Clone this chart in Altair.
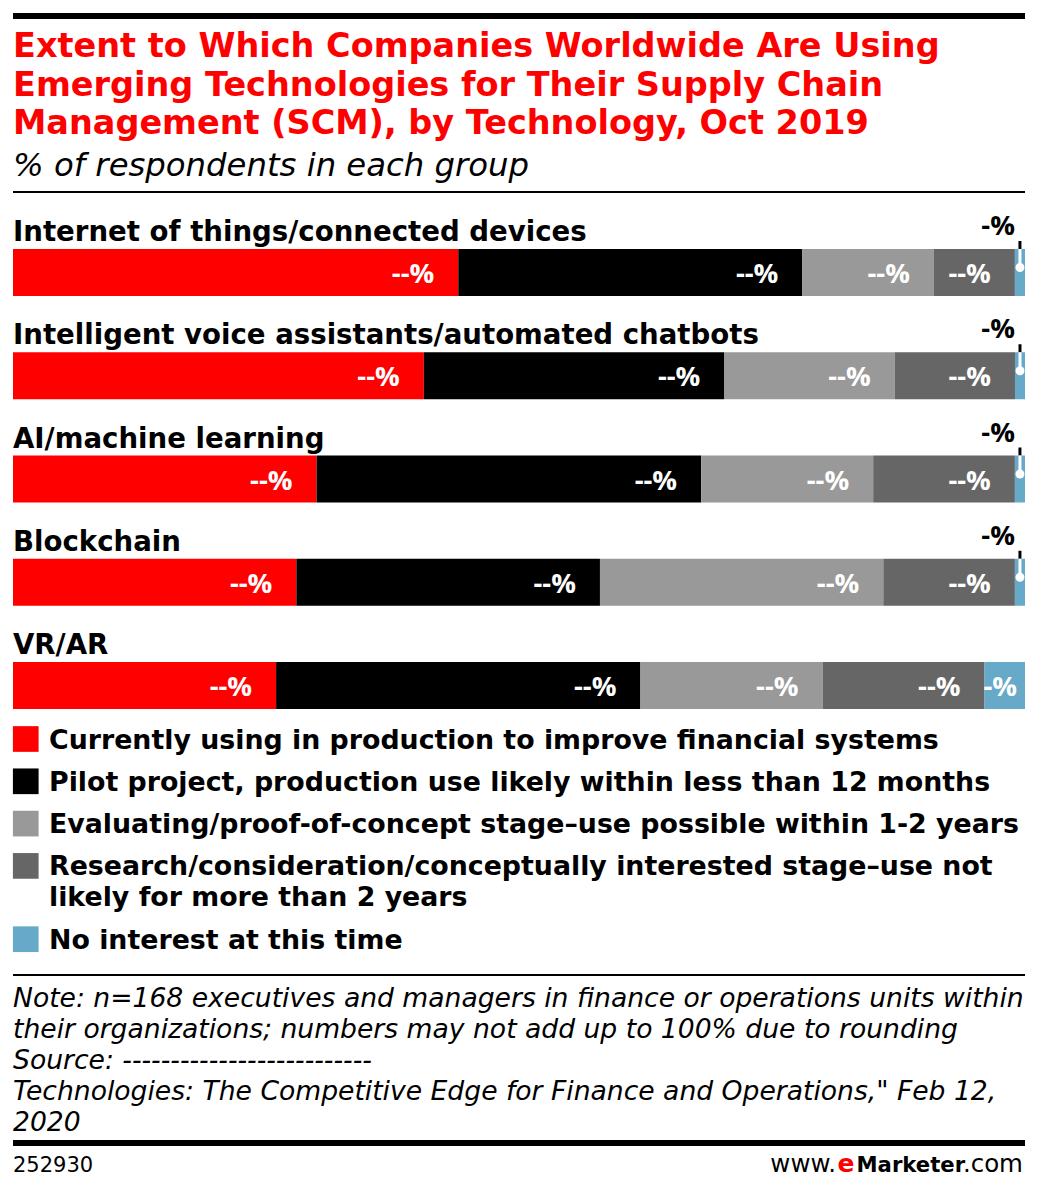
import altair as alt
import pandas as pd

# ---------------- data ----------------
categories = [
    "Internet of things/connected devices",
    "Intelligent voice assistants/automated chatbots",
    "AI/machine learning",
    "Blockchain",
    "VR/AR",
]
stages = [
    "Currently using in production to improve financial systems",
    "Pilot project, production use likely within less than 12 months",
    "Evaluating/proof-of-concept stage–use possible within 1-2 years",
    "Research/consideration/conceptually interested stage–use not likely for more than 2 years",
    "No interest at this time",
]
legend_labels = [
    "Currently using in production to improve financial systems",
    "Pilot project, production use likely within less than 12 months",
    "Evaluating/proof-of-concept stage–use possible within 1-2 years",
    "Research/consideration/conceptually interested stage–use not\nlikely for more than 2 years",
    "No interest at this time",
]
stage_colors = ["#ff0000", "#000000", "#999999", "#666666", "#67a9c9"]

currently_using = [44, 41, 30, 28, 26]
pilot_project = [34, 30, 38, 30, 36]
evaluating = [13, 17, 17, 28, 18]
research = [8, 12, 14, 13, 16]
no_interest = [1, 1, 1, 1, 4]
segment_labels = ["--%", "--%", "--%", "--%", "-%"]

title_text = ("Extent to Which Companies Worldwide Are Using\n"
              "Emerging Technologies for Their Supply Chain\n"
              "Management (SCM), by Technology, Oct 2019")
subtitle_text = "% of respondents in each group"
note_text = ("Note: n=168 executives and managers in finance or operations units within\n"
             "their organizations; numbers may not add up to 100% due to rounding\n"
             "Source: --------------------------\n"
             "Technologies: The Competitive Edge for Finance and Operations,\" Feb 12,\n"
             "2020")
chart_id = "252930"
brand_parts = ["www.", "e", "Marketer", ".com"]

# ---------------- tables ----------------
series = [currently_using, pilot_project, evaluating, research, no_interest]
rows = []
for ci, cat in enumerate(categories):
    for si, st in enumerate(stages):
        v = series[si][ci]
        rows.append(dict(category=cat, stage=st, order=si, value=v,
                         label=segment_labels[si], outside=bool(si == 4 and v < 3)))
df = pd.DataFrame(rows)

W = 1012
HEAVY = "DejaVu Sans"
LBL = "Open Sans"
ITAL = "DejaVu Sans"

# ---------------- header ----------------
hdr = alt.Chart(pd.DataFrame({"t": [title_text], "s": [subtitle_text]}))
top_rule = hdr.mark_rule(color="black", strokeWidth=6).encode(
    x=alt.value(0), x2=alt.value(W), y=alt.value(3))
title = hdr.mark_text(align="left", baseline="alphabetic", lineBreak="\n", lineHeight=38.5,
                      font=HEAVY, fontSize=33.5, fontWeight="bold", color="#ff0000").encode(
    x=alt.value(0), y=alt.value(44), text="t:N")
subtitle = hdr.mark_text(align="left", baseline="alphabetic", font=ITAL, fontSize=32.3,
                         fontStyle="italic", color="black").encode(
    x=alt.value(0), y=alt.value(163), text="s:N")
thin_rule = hdr.mark_rule(color="black", strokeWidth=2).encode(
    x=alt.value(0), x2=alt.value(W), y=alt.value(179))
header = alt.layer(top_rule, title, subtitle, thin_rule).properties(width=W, height=236)

# ---------------- bars ----------------
ysc = alt.Scale(domain=categories, paddingInner=0.5448, paddingOuter=0)
xsc = alt.Scale(domain=[0, 1], nice=False, zero=True)
Y = alt.Y("category:N", scale=ysc, axis=None)

base = alt.Chart(df).transform_stack(
    stack="value", groupby=["category"], as_=["v0", "v1"], offset="normalize",
    sort=[alt.SortField("order", order="ascending")]
).transform_calculate(mid="(datum.v0 + datum.v1) / 2")

bars = base.mark_bar().encode(
    x=alt.X("v0:Q", scale=xsc, axis=None), x2="v1:Q", y=Y,
    color=alt.Color("stage:N", scale=alt.Scale(domain=stages, range=stage_colors), legend=None))

inner = base.transform_filter("!datum.outside && datum.order < 4").mark_text(
    align="right", baseline="alphabetic", dx=-24, dy=10.5, font=LBL, fontSize=27.5,
    fontWeight="bold", color="white").encode(x="v1:Q", y=Y, text="label:N")
inner_blue = base.transform_filter("!datum.outside && datum.order == 4").mark_text(
    align="right", baseline="alphabetic", dx=-8, dy=10.5, font=LBL, fontSize=27.5,
    fontWeight="bold", color="white").encode(x="v1:Q", y=Y, text="label:N")
outside_text = base.transform_filter("datum.outside").mark_text(
    align="right", baseline="alphabetic", dx=-5, dy=-37.5, font=LBL, fontSize=27.5,
    fontWeight="bold", color="black").encode(x="mid:Q", y=Y, text="label:N")
tick = base.transform_filter("datum.outside").mark_tick(
    orient="vertical", size=8, thickness=3, yOffset=-27.5, color="black", opacity=1).encode(
    x="mid:Q", y=Y)
white_line = base.transform_filter("datum.outside").mark_tick(
    orient="vertical", size=18.5, thickness=3, yOffset=-14.25, color="white", opacity=1).encode(
    x="mid:Q", y=Y)
dot = base.transform_filter("datum.outside").mark_circle(
    size=80, color="white", opacity=1, yOffset=-5).encode(x="mid:Q", y=Y)

cat_labels = alt.Chart(pd.DataFrame({"category": categories})).mark_text(
    align="left", baseline="alphabetic", dy=-31.5, font=HEAVY, fontSize=27.6,
    fontWeight="bold", color="black").encode(x=alt.value(0), y=Y, text="category:N")

bar_chart = alt.layer(bars, inner, inner_blue, outside_text, tick, white_line, dot,
                      cat_labels).properties(width=W, height=460)

# ---------------- legend ----------------
leg_rows = []
extra = 0
for i, (st, lab) in enumerate(zip(stages, legend_labels)):
    leg_rows.append(dict(stage=st, label=lab, ypos=39.5 + i * 42.3 + extra * 31))
    extra += lab.count("\n")
leg_df = pd.DataFrame(leg_rows)
leg_base = alt.Chart(leg_df)
leg_sq = leg_base.transform_calculate(sy="datum.ypos - 9.5").mark_square(
    size=660, opacity=1).encode(
    x=alt.value(12.75), y=alt.Y("sy:Q", scale=None),
    color=alt.Color("stage:N", scale=alt.Scale(domain=stages, range=stage_colors), legend=None))
leg_txt = leg_base.mark_text(align="left", baseline="alphabetic", lineBreak="\n", lineHeight=31,
                             font=HEAVY, fontSize=26.8, fontWeight="bold", color="black").encode(
    x=alt.value(36), y=alt.Y("ypos:Q", scale=None), text="label:N")
legend = alt.layer(leg_sq, leg_txt).properties(width=W, height=251)

# ---------------- footer ----------------
ft = alt.Chart(pd.DataFrame({"n": [note_text], "id": [chart_id]}))
f_rule1 = ft.mark_rule(color="black", strokeWidth=2).encode(
    x=alt.value(0), x2=alt.value(W), y=alt.value(15))
f_note = ft.mark_text(align="left", baseline="alphabetic", lineBreak="\n", lineHeight=31,
                      font=ITAL, fontSize=26.6, fontStyle="italic", color="black").encode(
    x=alt.value(0), y=alt.value(46.5), text="n:N")
f_rule2 = ft.mark_rule(color="black", strokeWidth=6).encode(
    x=alt.value(0), x2=alt.value(W), y=alt.value(183))
f_id = ft.mark_text(align="left", baseline="alphabetic", font="DejaVu Sans", fontSize=21,
                    color="black").encode(x=alt.value(0), y=alt.value(212), text="id:N")

brand_df = pd.DataFrame({"part": brand_parts, "pos": [823, 824.5, 843.5, 1010],
                         "kind": ["plain_r", "red", "bold", "plain_r"]})
bb = alt.Chart(brand_df)
b_plain = bb.transform_filter("datum.kind == 'plain_r'").mark_text(
    align="right", baseline="alphabetic", font="DejaVu Sans", fontSize=24.5, color="black"
).encode(x=alt.X("pos:Q", scale=None), y=alt.value(212), text="part:N")
b_red = bb.transform_filter("datum.kind == 'red'").mark_text(
    align="left", baseline="alphabetic", font="DejaVu Sans", fontSize=25,
    fontWeight="bold", color="#ff0000"
).encode(x=alt.X("pos:Q", scale=None), y=alt.value(212), text="part:N")
b_bold = bb.transform_filter("datum.kind == 'bold'").mark_text(
    align="left", baseline="alphabetic", font="DejaVu Sans", fontSize=21.2,
    fontWeight="bold", color="black"
).encode(x=alt.X("pos:Q", scale=None), y=alt.value(212), text="part:N")
footer = alt.layer(f_rule1, f_note, f_rule2, f_id, b_plain, b_red, b_bold).properties(
    width=W, height=214)

chart = alt.vconcat(header, bar_chart, legend, footer, spacing=0, bounds="flush").properties(
    padding={"left": 2, "top": 5, "right": 0, "bottom": 0}
).configure_view(strokeWidth=0)

chart.save("out.html", embed_options={"renderer": "svg", "actions": False})
